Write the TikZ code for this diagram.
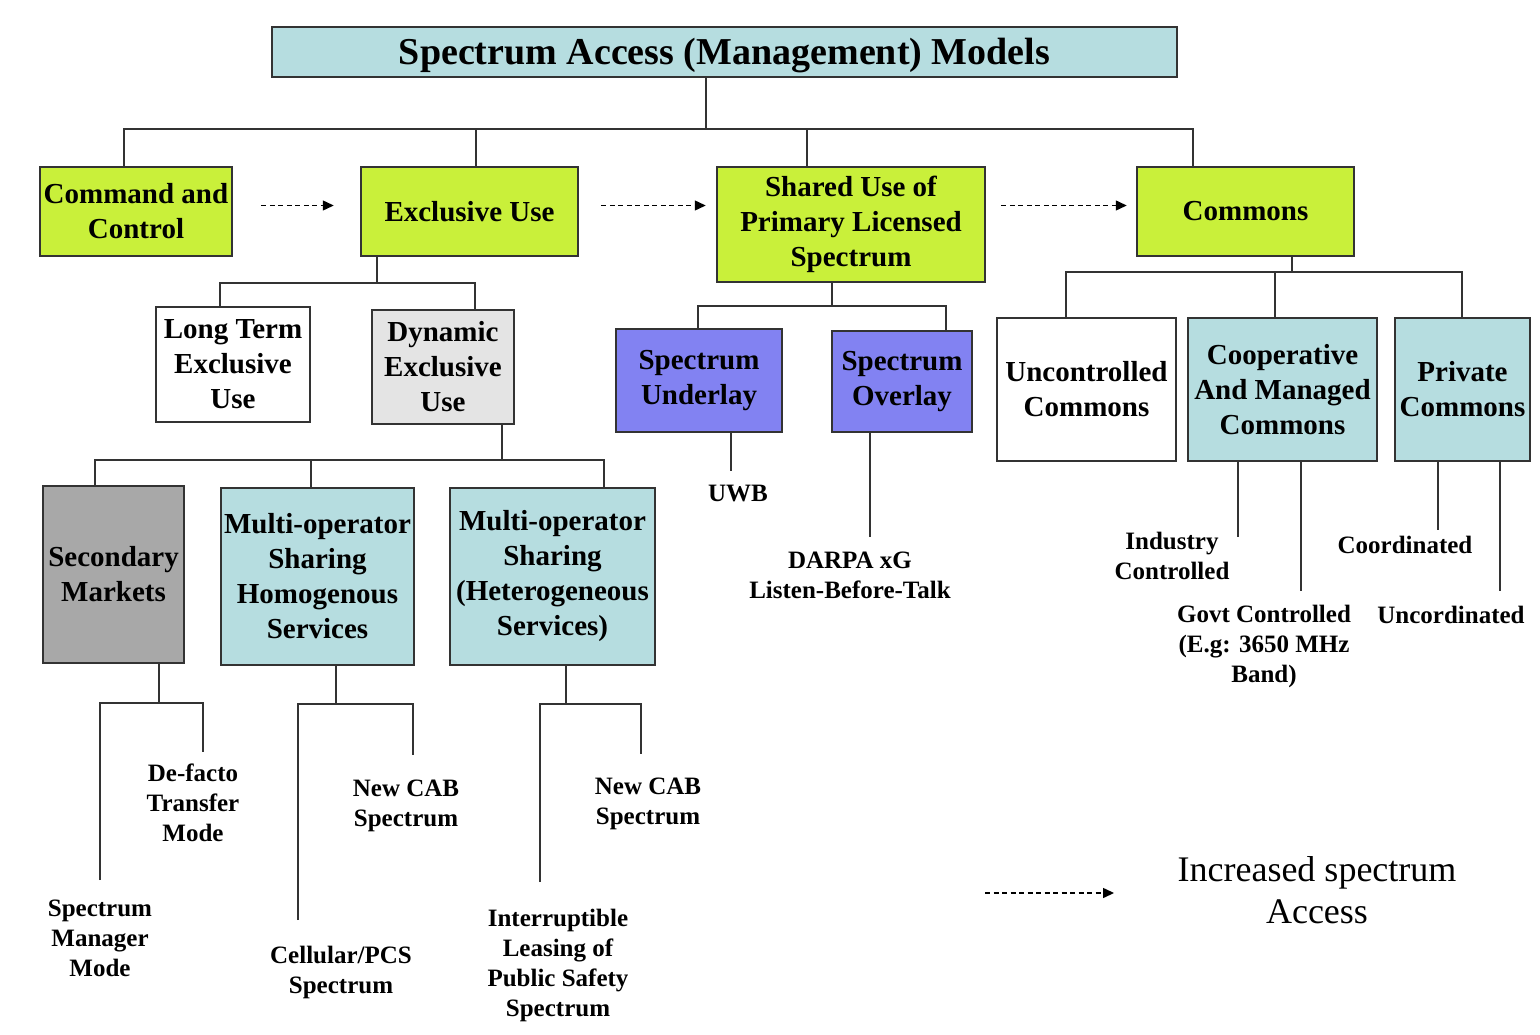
\documentclass[tikz,border=0pt]{standalone}
\usepackage{fontspec}
\setmainfont{Liberation Serif}
\definecolor{paleteal}{HTML}{B6DDE0}
\definecolor{limegreen}{HTML}{C9F03A}
\definecolor{violetblue}{HTML}{8282F2}
\definecolor{midgray}{HTML}{A8A8A8}
\definecolor{palegray}{HTML}{E4E4E4}
\definecolor{edgegray}{HTML}{333333}
\usepackage{tikz}
\usetikzlibrary{shapes,arrows.meta,positioning,calc}
\newcommand{\titletxt}{\fontsize{38}{44}\selectfont\bfseries}
\newcommand{\boxtxt}{\fontsize{29}{35}\selectfont\bfseries}
\newcommand{\leaftxt}{\fontsize{25}{30}\selectfont\bfseries}
\newcommand{\keytxt}{\fontsize{36}{42}\selectfont}

\begin{document}
\begin{tikzpicture}[
  x=1pt, y=-1pt,
  box/.style={rectangle, draw=edgegray, line width=2.5pt, align=center, font=\boxtxt, inner sep=2pt},
  greenbox/.style={box, fill=limegreen},
  tealbox/.style={box, fill=paleteal},
  leaf/.style={align=center, font=\leaftxt, inner sep=2pt},
  link/.style={draw=edgegray, line width=2.2pt},
  trend/.style={-{Triangle[length=11pt,width=10pt]}, line width=1.4pt, dash pattern=on 5pt off 3.5pt},
]
\useasboundingbox (0,0) rectangle (1540,1035);

% models
\node[tealbox, font=\titletxt, minimum width=905pt, minimum height=50pt, text depth=2pt] (root) at (724.5,52) {Spectrum Access (Management) Models};
\node[greenbox, minimum width=192pt, minimum height=89pt] (cmd) at (136,211.5) {Command and\\Control};
\node[greenbox, minimum width=217pt, minimum height=89pt] (excl) at (469.5,211.5) {Exclusive Use};
\node[greenbox, minimum width=268pt, minimum height=115pt] (shared) at (851,224.5) {Shared Use of\\Primary Licensed\\Spectrum};
\node[greenbox, minimum width=217pt, minimum height=89pt] (comm) at (1245.5,211.5) {Commons};

\coordinate (rj) at (706,129);
\coordinate (b1) at (124,129);
\coordinate (b2) at (476,129);
\coordinate (b3) at (807,129);
\coordinate (b4) at (1193,129);
\draw[link] (root.south -| rj) -- (rj);
\draw[link] (b1 |- cmd.north) |- (b4) -- (b4 |- comm.north);
\draw[link] (b2) -- (b2 |- excl.north);
\draw[link] (b3) -- (b3 |- shared.north);

\draw[trend, shorten <=28pt, shorten >=26pt] ([yshift=6pt]cmd.east) -- ([yshift=6pt]cmd.east -| excl.west);
\draw[trend, shorten <=22pt, shorten >=10pt] ([yshift=6pt]excl.east) -- ([yshift=6pt]excl.east -| shared.west);
\draw[trend, shorten <=15pt, shorten >=9pt] ([yshift=6pt]comm.west -| shared.east) -- ([yshift=6pt]comm.west);

% exclusive use
\node[box, fill=white, minimum width=154pt, minimum height=115pt] (longt) at (233,364.5) {Long Term\\Exclusive\\Use};
\node[box, fill=palegray, minimum width=142pt, minimum height=114pt] (dyn) at (443,367) {Dynamic\\Exclusive\\Use};
\coordinate (ej) at (377,283);
\coordinate (e1) at (220,283);
\coordinate (e2) at (475,283);
\draw[link] (excl.south -| ej) -- (ej);
\draw[link] (e1 |- longt.north) |- (e2) -- (e2 |- dyn.north);

\node[box, fill=midgray, minimum width=141pt, minimum height=177pt] (sec) at (113.5,574.5) {Secondary\\Markets};
\node[tealbox, minimum width=193pt, minimum height=177pt] (homog) at (317.5,576.5) {Multi-operator\\Sharing\\Homogenous\\Services};
\node[tealbox, minimum width=205pt, minimum height=177pt] (heter) at (552.5,576.5) {Multi-operator\\Sharing\\(Heterogeneous\\Services)};
\coordinate (dj) at (502,460);
\coordinate (d1) at (95,460);
\coordinate (d2) at (311,460);
\coordinate (d3) at (604,460);
\draw[link] (dyn.south -| dj) -- (dj);
\draw[link] (d1 |- sec.north) |- (d3) -- (d3 |- heter.north);
\draw[link] (d2) -- (d2 |- homog.north);

\node[leaf] (defacto) at (193,803) {De-facto\\Transfer\\Mode};
\node[leaf] (specmgr) at (100,938) {Spectrum\\Manager\\Mode};
\coordinate (sj) at (159,703);
\coordinate (s1) at (100,880);
\coordinate (s2) at (203,752);
\draw[link] (sec.south -| sj) -- (sj);
\draw[link] (s1) |- (s2 |- sj) -- (s2);

\node[leaf] (cab1) at (406,806) {New CAB\\Spectrum};
\node[leaf] (cellular) at (341,972) {Cellular/PCS\\Spectrum};
\coordinate (hj) at (336,704);
\coordinate (h1) at (298,920);
\coordinate (h2) at (413,755);
\draw[link] (homog.south -| hj) -- (hj);
\draw[link] (h1) |- (h2 |- hj) -- (h2);

\node[leaf] (cab2) at (648,804) {New CAB\\Spectrum};
\node[leaf] (interrupt) at (558,965) {Interruptible\\Leasing of\\Public Safety\\Spectrum};
\coordinate (tj) at (566,704);
\coordinate (t1) at (540,882);
\coordinate (t2) at (641,754);
\draw[link] (heter.south -| tj) -- (tj);
\draw[link] (t1) |- (t2 |- tj) -- (t2);

% shared use
\node[box, fill=violetblue, minimum width=166pt, minimum height=103pt] (under) at (699,380.5) {Spectrum\\Underlay};
\node[box, fill=violetblue, minimum width=140pt, minimum height=101pt] (over) at (902,381.5) {Spectrum\\Overlay};
\coordinate (uj) at (832,306);
\coordinate (u1) at (698,306);
\coordinate (u2) at (946,306);
\draw[link] (shared.south -| uj) -- (uj);
\draw[link] (u1 |- under.north) |- (u2) -- (u2 |- over.north);

\node[leaf] (uwb) at (738,494) {UWB};
\node[leaf] (darpa) at (850,575) {DARPA xG\\Listen-Before-Talk};
\coordinate (uwbtop) at (731,471);
\coordinate (darpatop) at (870,537);
\draw[link] (under.south -| uwbtop) -- (uwbtop);
\draw[link] (over.south -| darpatop) -- (darpatop);

% commons
\node[box, fill=white, minimum width=179pt, minimum height=143pt] (uncon) at (1086.5,389.5) {Uncontrolled\\Commons};
\node[tealbox, minimum width=189pt, minimum height=143pt] (coop) at (1282.5,389.5) {Cooperative\\And Managed\\Commons};
\node[tealbox, minimum width=135pt, minimum height=143pt] (priv) at (1462.5,389.5) {Private\\Commons};
\coordinate (cj) at (1292,272);
\coordinate (c1) at (1066,272);
\coordinate (c2) at (1275,272);
\coordinate (c3) at (1462,272);
\draw[link] (comm.south -| cj) -- (cj);
\draw[link] (c1 |- uncon.north) |- (c3) -- (c3 |- priv.north);
\draw[link] (c2) -- (c2 |- coop.north);

\node[leaf] (industry) at (1172,556) {Industry\\Controlled};
\node[leaf] (govt) at (1264,646) {Govt Controlled\\(E.g: 3650 MHz\\Band)};
\node[leaf] (coord) at (1405,545) {Coordinated};
\node[leaf] (uncoord) at (1451,615) {Uncordinated};
\coordinate (indtop) at (1238,537);
\coordinate (govtop) at (1301,591);
\coordinate (cotop) at (1438,530);
\coordinate (uctop) at (1500,591);
\draw[link] (coop.south -| indtop) -- (indtop);
\draw[link] (coop.south -| govtop) -- (govtop);
\draw[link] (priv.south -| cotop) -- (cotop);
\draw[link] (priv.south -| uctop) -- (uctop);

% key
\node[font=\keytxt, align=center] (key) at (1317,890) {Increased spectrum\\Access};
\coordinate (keytail) at (985,893);
\draw[trend, shorten >=60pt] (keytail) -- (keytail -| key.west);
\end{tikzpicture}
\end{document}
